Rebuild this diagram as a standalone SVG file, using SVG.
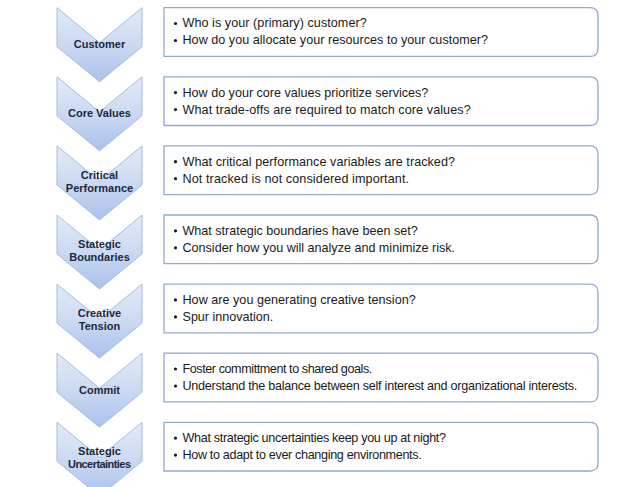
<svg xmlns="http://www.w3.org/2000/svg" width="634" height="487" viewBox="0 0 634 487">
<defs>
<linearGradient id="chev" x1="0" y1="0" x2="0" y2="1">
<stop offset="0" stop-color="#e4ebf8"/>
<stop offset="0.5" stop-color="#cbd9f2"/>
<stop offset="1" stop-color="#a9c1ec"/>
</linearGradient>
<style>
.chev{fill:url(#chev);stroke:#a7badf;stroke-width:1}
.lbl{font-family:"Liberation Sans",Arial,sans-serif;font-weight:bold;font-size:11px;fill:#1c2940;text-anchor:middle}
.box{fill:#ffffff;stroke:#93a8d2;stroke-width:1.3}
.txt{font-family:"Liberation Sans",Arial,sans-serif;font-size:12.6px;fill:#1a1a1a}
.dot{fill:#1a1a1a}
</style>
<polygon id="chevShape" points="57,0 99.5,35 142,0 142,39 99.5,74 57,39"/>
<path id="boxShape" d="M164,0 H590 Q598,0 598,8 V40.7 Q598,48.7 590,48.7 H164 Z"/>
</defs>
<rect width="634" height="487" fill="#ffffff"/>

<g id="node-customer" transform="translate(0,7.7)">
<use href="#chevShape" class="chev"/>
<text class="lbl" x="99.5" y="40.5">Customer</text>
<use href="#boxShape" class="box"/>
<circle class="dot" cx="175.5" cy="15.8" r="1.6"/><text class="txt" x="182.5" y="19.8" textLength="184.2">Who is your (primary) customer?</text>
<circle class="dot" cx="175.5" cy="32.8" r="1.6"/><text class="txt" x="182.5" y="36.8" textLength="305.5">How do you allocate your resources to your customer?</text>
</g>

<g id="node-core-values" transform="translate(0,76.8)">
<use href="#chevShape" class="chev"/>
<text class="lbl" x="99.5" y="40.5">Core Values</text>
<use href="#boxShape" class="box"/>
<circle class="dot" cx="175.5" cy="15.8" r="1.6"/><text class="txt" x="182.5" y="19.8" textLength="245.8">How do your core values prioritize services?</text>
<circle class="dot" cx="175.5" cy="32.8" r="1.6"/><text class="txt" x="182.5" y="36.8" textLength="288.2">What trade-offs are required to match core values?</text>
</g>

<g id="node-critical-performance" transform="translate(0,145.9)">
<use href="#chevShape" class="chev"/>
<text class="lbl" x="99.5" y="33">Critical</text>
<text class="lbl" x="99.5" y="46">Performance</text>
<use href="#boxShape" class="box"/>
<circle class="dot" cx="175.5" cy="15.8" r="1.6"/><text class="txt" x="182.5" y="19.8" textLength="272.5">What critical performance variables are tracked?</text>
<circle class="dot" cx="175.5" cy="32.8" r="1.6"/><text class="txt" x="182.5" y="36.8" textLength="226.5">Not tracked is not considered important.</text>
</g>

<g id="node-strategic-boundaries" transform="translate(0,215)">
<use href="#chevShape" class="chev"/>
<text class="lbl" x="99.5" y="33">Stategic</text>
<text class="lbl" x="99.5" y="46">Boundaries</text>
<use href="#boxShape" class="box"/>
<circle class="dot" cx="175.5" cy="15.8" r="1.6"/><text class="txt" x="182.5" y="19.8" textLength="235.2">What strategic boundaries have been set?</text>
<circle class="dot" cx="175.5" cy="32.8" r="1.6"/><text class="txt" x="182.5" y="36.8" textLength="272.5">Consider how you will analyze and minimize risk.</text>
</g>

<g id="node-creative-tension" transform="translate(0,284.1)">
<use href="#chevShape" class="chev"/>
<text class="lbl" x="99.5" y="33">Creative</text>
<text class="lbl" x="99.5" y="46">Tension</text>
<use href="#boxShape" class="box"/>
<circle class="dot" cx="175.5" cy="15.8" r="1.6"/><text class="txt" x="182.5" y="19.8" textLength="233.2">How are you generating creative tension?</text>
<circle class="dot" cx="175.5" cy="32.8" r="1.6"/><text class="txt" x="182.5" y="36.8" textLength="90.8">Spur innovation.</text>
</g>

<g id="node-commit" transform="translate(0,353.2)">
<use href="#chevShape" class="chev"/>
<text class="lbl" x="99.5" y="40.5">Commit</text>
<use href="#boxShape" class="box"/>
<circle class="dot" cx="175.5" cy="15.8" r="1.6"/><text class="txt" x="182.5" y="19.8" textLength="189.8">Foster committment to shared goals.</text>
<circle class="dot" cx="175.5" cy="32.8" r="1.6"/><text class="txt" x="182.5" y="36.8" textLength="394.8">Understand the balance between self interest and organizational interests.</text>
</g>

<g id="node-strategic-uncertainties" transform="translate(0,422.3)">
<use href="#chevShape" class="chev"/>
<text class="lbl" x="99.5" y="33">Stategic</text>
<text class="lbl" x="99.5" y="46" textLength="63">Uncertainties</text>
<use href="#boxShape" class="box"/>
<circle class="dot" cx="175.5" cy="15.8" r="1.6"/><text class="txt" x="182.5" y="19.8" textLength="263.5">What strategic uncertainties keep you up at night?</text>
<circle class="dot" cx="175.5" cy="32.8" r="1.6"/><text class="txt" x="182.5" y="36.8" textLength="239.2">How to adapt to ever changing environments.</text>
</g>

<g id="connectors"></g>
</svg>
